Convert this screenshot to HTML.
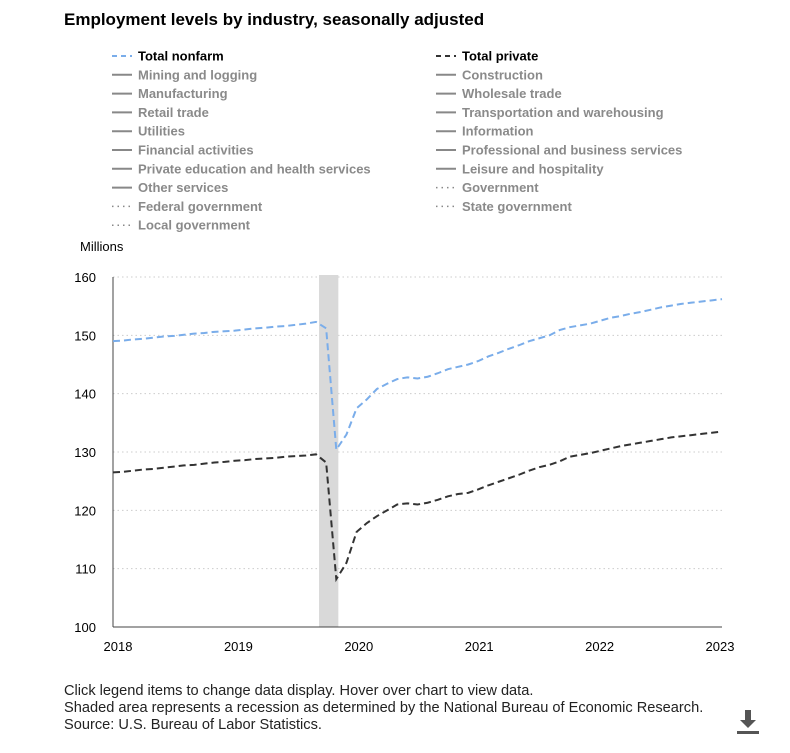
<!DOCTYPE html>
<html><head><meta charset="utf-8"><style>
body{margin:0;background:#fff;font-family:"Liberation Sans","DejaVu Sans",sans-serif;}
#wrap{position:relative;width:790px;height:753px;overflow:hidden}
.t{position:absolute;white-space:nowrap}
</style></head><body>
<div id="wrap">
<div class="t" style="left:64px;top:10px;font-size:17px;font-weight:bold;color:#000">Employment levels by industry, seasonally adjusted</div>
<svg id="chart" width="790" height="753" style="position:absolute;left:0;top:0"></svg>
<div class="t" style="left:64px;top:683px;font-size:14.6px;line-height:17px;color:#222">Click legend items to change data display. Hover over chart to view data.<br>Shaded area represents a recession as determined by the National Bureau of Economic Research.<br>Source: U.S. Bureau of Labor Statistics.</div>
<svg width="28" height="28" style="position:absolute;left:735px;top:708px"><path d="M10 2h6v10h5l-8 8-8-8h5z" fill="#555"/><rect x="2" y="23" width="22" height="3" fill="#555"/></svg>
</div>
<script>
const years=["2018","2019","2020","2021","2022","2023"];
const yTicks=[100,110,120,130,140,150,160];
const nonfarm=[149.0,149.1,149.3,149.4,149.6,149.8,149.9,150.1,150.3,150.4,150.6,150.7,150.8,151.0,151.2,151.3,151.5,151.6,151.8,152.0,152.3,151.2,130.4,133.0,137.5,139.0,140.8,141.7,142.5,142.8,142.6,142.9,143.5,144.2,144.6,145.0,145.6,146.4,147.0,147.7,148.3,149.0,149.5,150.0,150.9,151.4,151.7,152.0,152.5,153.0,153.3,153.7,154.0,154.4,154.8,155.1,155.4,155.6,155.8,156.0,156.2];
const privateEmp=[126.5,126.6,126.8,127.0,127.1,127.3,127.5,127.7,127.8,128.0,128.2,128.3,128.5,128.6,128.8,128.9,129.0,129.2,129.3,129.4,129.6,128.2,108.2,111.0,116.3,117.8,119.0,120.0,121.0,121.2,121.0,121.3,121.8,122.4,122.8,123.0,123.6,124.3,124.9,125.5,126.1,126.8,127.4,127.8,128.4,129.2,129.5,129.8,130.2,130.6,131.0,131.3,131.6,131.9,132.2,132.5,132.7,132.9,133.1,133.3,133.5];
const recession=[20.3,22.2];
const legendLeft=[["Total nonfarm","dash-blue"],["Mining and logging","solid"],["Manufacturing","solid"],["Retail trade","solid"],["Utilities","solid"],["Financial activities","solid"],["Private education and health services","solid"],["Other services","solid"],["Federal government","dot"],["Local government","dot"]];
const legendRight=[["Total private","dash-black"],["Construction","solid"],["Wholesale trade","solid"],["Transportation and warehousing","solid"],["Information","solid"],["Professional and business services","solid"],["Leisure and hospitality","solid"],["Government","dot"],["State government","dot"]];

const NS="http://www.w3.org/2000/svg";
const svg=document.getElementById('chart');
const x0=113,x1=722,yTop=277,yBot=627,n=nonfarm.length;
const xs=i=>x0+(x1-x0)*i/(n-1);
const ys=v=>yBot-(v-100)/(160-100)*(yBot-yTop);
function mk(t,a){const e=document.createElementNS(NS,t);for(const k in a)e.setAttribute(k,a[k]);svg.appendChild(e);return e;}

function legendCol(items,lx,tx){
items.forEach((it,i)=>{
 const y=56+i*18.8;
 const st=it[1];
 const col=st==="dash-blue"?"#7aadea":st==="dash-black"?"#333":"#888";
 const line=mk('line',{x1:lx,x2:lx+20,y1:y,y2:y,stroke:col,'stroke-width':st==="dot"?1.5:2,'stroke-dasharray':st.startsWith("dash")?"5,4":st==="dot"?"1.5,4":"none"});
 
 
 const active=st.startsWith("dash");
 const tx2=mk('text',{x:tx,y:y+4.5,'font-size':13,'font-weight':'bold',fill:active?"#000":"#8a8a8a"});
 tx2.textContent=it[0];
 
 
});}
legendCol(legendLeft,112,138);
legendCol(legendRight,436,462);

const yl=mk('text',{x:80,y:251,'font-size':13,fill:'#000'});yl.textContent="Millions";



yTicks.forEach(v=>{
 if(v>100){const g=mk('line',{x1:x0,x2:x1,y1:ys(v),y2:ys(v),stroke:'#ccc','stroke-dasharray':'1.5,3'});
 
 }
 const t=mk('text',{x:96,y:ys(v)+5,'font-size':13,'text-anchor':'end',fill:'#000'});t.textContent=v;
 
 
});
const rs=mk('rect',{x:xs(recession[0]),y:yTop-2,width:xs(recession[1])-xs(recession[0]),height:yBot-yTop+2,fill:'#d9d9d9'});


const ax=mk('line',{x1:x0,x2:x1,y1:yBot,y2:yBot,stroke:'#444','stroke-width':1});


const ay=mk('line',{x1:x0,x2:x0,y1:yTop,y2:yBot,stroke:'#444','stroke-width':1});


years.forEach((y,i)=>{
 const x=118+i*120.4;
 const t=mk('text',{x:x,y:651,'font-size':13,'text-anchor':'middle',fill:'#000'});t.textContent=y;
 
 
});
function series(arr,col,name){
 const p=mk('polyline',{points:arr.map((v,i)=>xs(i)+','+ys(v)).join(' '),fill:'none',stroke:col,'stroke-width':2,'stroke-dasharray':'7,4'});
 
 
}
series(nonfarm,'#7aadea','total-nonfarm-line');
series(privateEmp,'#333','total-private-line');
</script>
</body></html>
